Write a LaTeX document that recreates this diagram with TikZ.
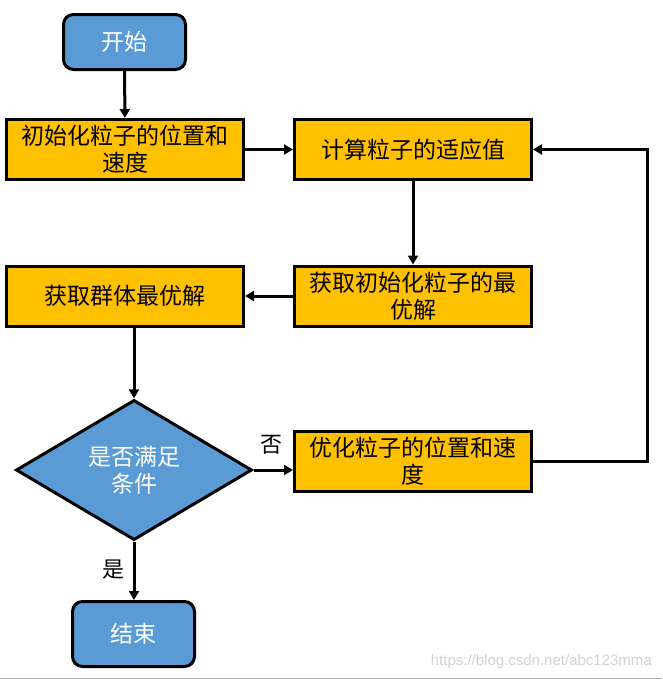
\documentclass[tikz,border=0pt]{standalone}
\usepackage{fontspec}
\setmainfont{Liberation Sans}
\newfontfamily\cjk{Noto Sans CJK SC}
\usetikzlibrary{shapes.geometric,arrows.meta}
\definecolor{bluefill}{HTML}{5B9BD5}
\definecolor{yellowfill}{HTML}{FFC000}
\begin{document}
\begin{tikzpicture}[x=1pt,y=-1pt,
  term/.style={draw=black,line width=3pt,fill=bluefill,rounded corners=10pt,minimum width=122pt,inner sep=0pt,text=white,font=\cjk\fontsize{23}{27}\selectfont,align=center},
  proc/.style={draw=black,line width=3pt,fill=yellowfill,minimum width=237pt,minimum height=60pt,inner sep=0pt,font=\cjk\fontsize{23}{27}\selectfont,align=center},
  decide/.style={diamond,draw=black,line width=3pt,fill=bluefill,minimum width=236pt,minimum height=132pt,inner sep=0pt,text=white,font=\cjk\fontsize{23}{27}\selectfont,align=center},
  lbl/.style={font=\cjk\fontsize{22}{26}\selectfont,inner sep=0pt},
  arr/.style={line width=3pt,-{Triangle[length=9pt,width=10pt]}}
]
\useasboundingbox (0,0) rectangle (662,680);
\draw[gray!60,line width=1pt] (0,678.5) -- (662,678.5);

\node[term,minimum height=55pt] (start) at (124.5,42) {开始};
\node[proc] (init) at (125,149.5) {初始化粒子的位置和\\速度};
\node[proc] (calc) at (413,149.5) {计算粒子的适应值};
\node[proc] (pbest) at (413,296) {获取初始化粒子的最\\优解};
\node[proc] (gbest) at (125,296) {获取群体最优解};
\node[decide] (dia) at (134,470) {是否满足\\条件};
\node[proc] (opt) at (413,461) {优化粒子的位置和速\\度};
\node[term,minimum height=65pt] (end) at (133.5,634) {结束};

\node[lbl] (no) at (271,445) {否};
\node[lbl] (yes) at (113,570) {是};

\coordinate (r) at (647,0);

\draw[arr] (start) -- (init);
\draw[arr] (init) -- (calc);
\draw[arr] (calc) -- (pbest);
\draw[arr] (pbest) -- (gbest);
\draw[arr] (gbest.south -| dia.north) -- (dia.north);
\draw[arr] (dia.east) -- (dia.east -| opt.west);
\draw[arr] (dia.south) -- (end.north -| dia.south);
\draw[arr] (opt.east) -| (r |- calc.east) -- (calc.east);

\node[text=gray!35,font=\fontsize{15}{18}\selectfont,anchor=east,inner sep=0pt] (wm) at (652,662) {https://blog.csdn.net/abc123mma};
\end{tikzpicture}
\end{document}
